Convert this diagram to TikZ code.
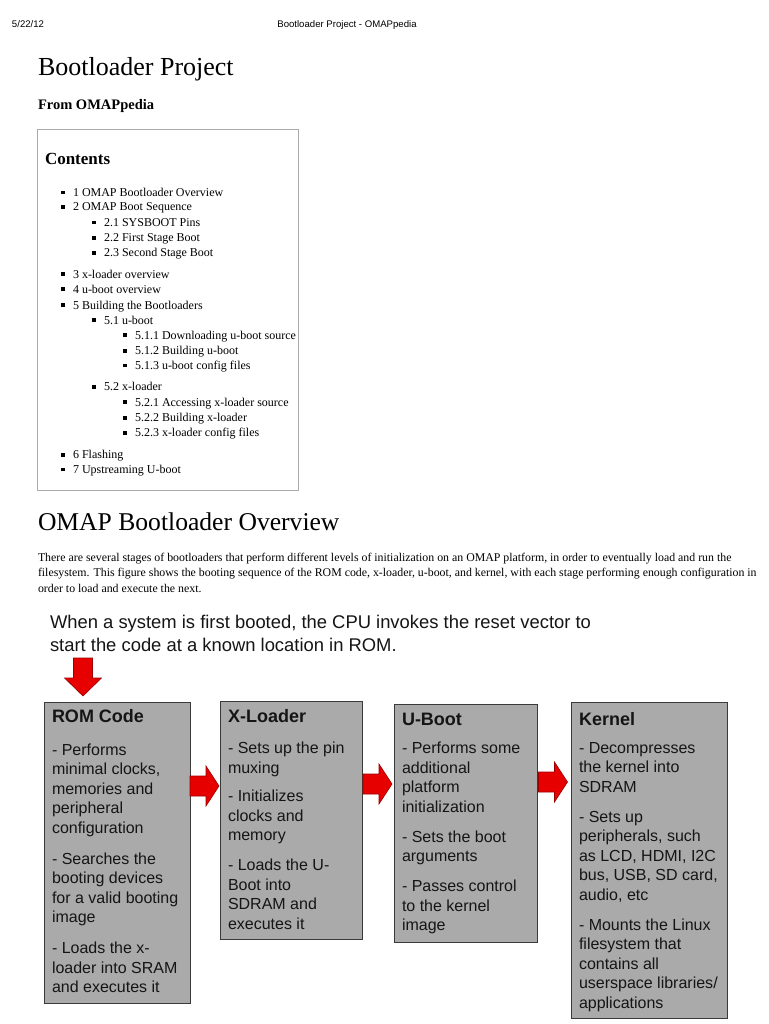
\documentclass[tikz,border=0pt]{standalone}
\usepackage{fontspec}
\setmainfont{Liberation Serif}
\setsansfont{Liberation Sans}
\usetikzlibrary{calc}
\definecolor{boxgray}{HTML}{AAAAAA}
\definecolor{boxedge}{HTML}{3A3A3A}
\definecolor{arrred}{HTML}{E60000}
\definecolor{arredge}{HTML}{9A0000}
\definecolor{tocedge}{HTML}{AAAAAA}
\definecolor{inktext}{HTML}{151515}
\begin{document}
\begin{tikzpicture}[x=1pt,y=-1pt,
  every node/.style={inner sep=0pt, outer sep=0pt},
  hdr/.style={anchor=base west, font=\sffamily\fontsize{9.6}{11}\selectfont},
  tocitem/.style={anchor=base west, font=\fontsize{12}{15}\selectfont},
  bulletsq/.style={fill=black, minimum size=3.6pt, anchor=center},
  paraline/.style={anchor=base west, font=\fontsize{11.85}{15.5}\selectfont},
  introline/.style={anchor=base west, font=\sffamily\fontsize{18.4}{23}\selectfont, text=inktext},
  stage/.style={draw=boxedge, line width=1pt, fill=boxgray, anchor=north west},
  stagetitle/.style={anchor=base west, font=\sffamily\bfseries\fontsize{18}{20}\selectfont, text=inktext},
  stagebody/.style={anchor=north west, align=left, font=\sffamily\fontsize{16}{19.5}\selectfont, text=inktext},
  redarrow/.style={fill=arrred, draw=arredge, line width=0.6pt, line join=miter},
  rarrow/.pic={\path[redarrow] (0,-10) -- (16,-10) -- (16,-20) -- (29,0) -- (16,20) -- (16,10) -- (0,10) -- cycle;}
]
\useasboundingbox[fill=white] (0,0) rectangle (768,1024);

% page header
\node[hdr] (date) at (12,28) {5/22/12};
\node[hdr, anchor=base] (ptitle) at (347,28) {Bootloader Project - OMAPpedia};

% titles
\node[anchor=base west, font=\fontsize{26}{30}\selectfont] (title) at (38,75.5) {Bootloader Project};
\node[anchor=base west, font=\bfseries\fontsize{14.5}{17}\selectfont] (from) at (38,110) {From OMAPpedia};

% contents box
\node[draw=tocedge, line width=1pt, anchor=north west, minimum width=261pt, minimum height=361pt] (toc) at (37.5,129.5) {};
\node[anchor=base west, font=\bfseries\fontsize{17}{20}\selectfont] (conth) at (45,165) {Contents};
\foreach \lv/\yy/\tx [count=\i] in {
  1/192.7/1 OMAP Bootloader Overview,
  1/207/2 OMAP Boot Sequence,
  2/222.7/2.1 SYSBOOT Pins,
  2/237.7/2.2 First Stage Boot,
  2/252.7/2.3 Second Stage Boot,
  1/274/3 x-loader overview,
  1/289/4 u-boot overview,
  1/305/5 Building the Bootloaders,
  2/320/5.1 u-boot,
  3/335/5.1.1 Downloading u-boot source,
  3/350.7/5.1.2 Building u-boot,
  3/365.5/5.1.3 u-boot config files,
  2/386.7/5.2 x-loader,
  3/402/5.2.1 Accessing x-loader source,
  3/417.7/5.2.2 Building x-loader,
  3/432.7/5.2.3 x-loader config files,
  1/454.7/6 Flashing,
  1/469.3/7 Upstreaming U-boot}{
  \pgfmathsetmacro\bx{61+31*(\lv-1)}
  \node[bulletsq] (b\i) at (\bx+2,\yy) {};
  \node[tocitem] (t\i) at (\bx+12,\yy+4) {\tx};
}

% section heading and paragraph
\node[anchor=base west, font=\fontsize{25.6}{30}\selectfont] (h2) at (38,530) {OMAP Bootloader Overview};
\node[paraline] (p1) at (38,561) {There are several stages of bootloaders that perform different levels of initialization on an OMAP platform, in order to eventually load and run the};
\node[paraline] (p2) at (38,576.5) {filesystem. This figure shows the booting sequence of the ROM code, x-loader, u-boot, and kernel, with each stage performing enough configuration in};
\node[paraline] (p3) at (38,592) {order to load and execute the next.};

% figure
\node[introline] (i1) at (50,628) {When a system is first booted, the CPU invokes the reset vector to};
\node[introline] (i2) at (50,651) {start the code at a known location in ROM.};

\path[redarrow] (73.5,658) -- (92.5,658) -- (92.5,678) -- (101.5,678) -- (83,696) -- (64.5,678) -- (73.5,678) -- cycle;

\node[stage, minimum width=146pt, minimum height=301pt] (rom) at (44,702) {};
\node[stage, minimum width=142pt, minimum height=238pt] (xl) at (220,701) {};
\node[stage, minimum width=143pt, minimum height=238pt] (ub) at (394,704) {};
\node[stage, minimum width=156pt, minimum height=316pt] (ker) at (571,702) {};

\node[stagetitle] (romt) at (52,722) {ROM Code};
\node[stagetitle] (xlt) at (228,722) {X-Loader};
\node[stagetitle] (ubt) at (402,725) {U-Boot};
\node[stagetitle] (kert) at (579,725) {Kernel};

\node[stagebody] (romb) at (52,743.5) {- Performs\\minimal clocks,\\memories and\\peripheral\\configuration\\[11.5pt]- Searches the\\booting devices\\for a valid booting\\image\\[11.5pt]- Loads the x-\\loader into SRAM\\and executes it};
\node[stagebody] (xlb) at (228,742) {- Sets up the pin\\muxing\\[9pt]- Initializes\\clocks and\\memory\\[10.5pt]- Loads the U-\\Boot into\\SDRAM and\\executes it};
\node[stagebody] (ubb) at (402,742) {- Performs some\\additional\\platform\\initialization\\[10.5pt]- Sets the boot\\arguments\\[10.5pt]- Passes control\\to the kernel\\image};
\node[stagebody] (kerb) at (579,742) {- Decompresses\\the kernel into\\SDRAM\\[10.5pt]- Sets up\\peripherals, such\\as LCD, HDMI, I2C\\bus, USB, SD card,\\audio, etc\\[10.5pt]- Mounts the Linux\\filesystem that\\contains all\\userspace libraries/\\applications};

\pic at (190,786) {rarrow};
\pic at (363,784) {rarrow};
\pic at (538.5,782) {rarrow};
\end{tikzpicture}
\end{document}
